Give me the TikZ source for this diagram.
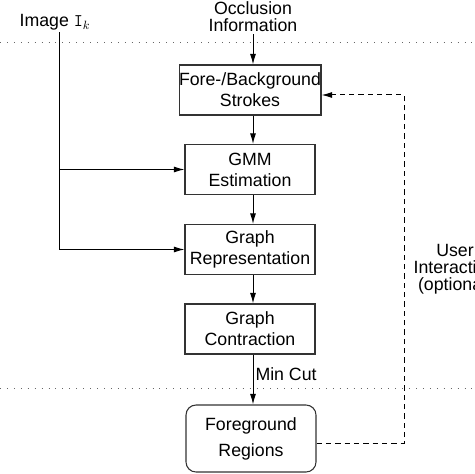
\documentclass[tikz,border=0pt]{standalone}
\usepackage{fontspec}
\setmainfont{Liberation Sans}
\usetikzlibrary{arrows.meta}

\tikzset{
    stadio/.style={draw=black!80, line width=0.8pt, minimum width=97.5pt,
        minimum height=37.5pt, inner sep=0pt, align=center,
        font=\fontsize{13.3}{15.75}\selectfont},
    freccia/.style={-{Latex[length=8pt,width=4.5pt]}, line width=0.75pt},
    separa/.style={black!60, line width=0.75pt, dash pattern=on 0.6pt off 4.6pt},
    etichetta/.style={align=center, inner sep=1.5pt,
        font=\fontsize{13.3}{12.75}\selectfont},
}

\begin{document}
\begin{tikzpicture}[x=0.75pt, y=-0.75pt]
    \useasboundingbox (0,0) rectangle (474,474);

    % Separatori
    \draw[separa] (0,43) -- (474,43);
    \draw[separa] (0,388) -- (474,388);

    % Ingressi
    \node[etichetta] (immagine) at (55,22) {Image $\mathtt{I}_k$};
    \node[etichetta] (occl) at (253,17) {Occlusion\\Information};
    \coordinate (ramo) at (59,0);

    % Blocchi
    \node[stadio] (tratti) at (250,90) {Fore-/Background\\Strokes};
    \node[stadio] (gmm) at (250,169.5) {GMM\\Estimation};
    \node[stadio] (grafo) at (250,249.5) {Graph\\Representation};
    \node[stadio] (contraz) at (250,329) {Graph\\Contraction};
    \node[stadio, rounded corners=7.5pt, minimum height=50.25pt,
        font=\fontsize{13.3}{19.5}\selectfont] (regioni) at (251,438.5)
        {Foreground\\Regions};

    % Utente
    \node[etichetta] (utente) at (455,269) {User\\Interaction\\(optional)};

    % Frecce
    \draw[freccia] (occl) -- (occl |- tratti.north);
    \draw[freccia] (tratti.south -| occl) -- (gmm.north -| occl);
    \draw[freccia] (gmm.south -| occl) -- (grafo.north -| occl);
    \draw[freccia] (grafo.south -| occl) -- (contraz.north -| occl);
    \draw[freccia] (contraz.south -| occl) -- node[right, pos=0.4, etichetta] {Min Cut}
        (regioni.north -| occl);
    \draw[freccia] (immagine.south -| ramo) |- (grafo.west);
    \draw[freccia] (ramo |- gmm.west) -- (gmm.west);

    % Ritorno
    \coordinate (ritorno) at (404,95);
    \draw[freccia, dash pattern=on 4pt off 3pt] ([yshift=-3.4pt]regioni.east) -| (ritorno)
        -- (ritorno -| tratti.east);
\end{tikzpicture}
\end{document}
